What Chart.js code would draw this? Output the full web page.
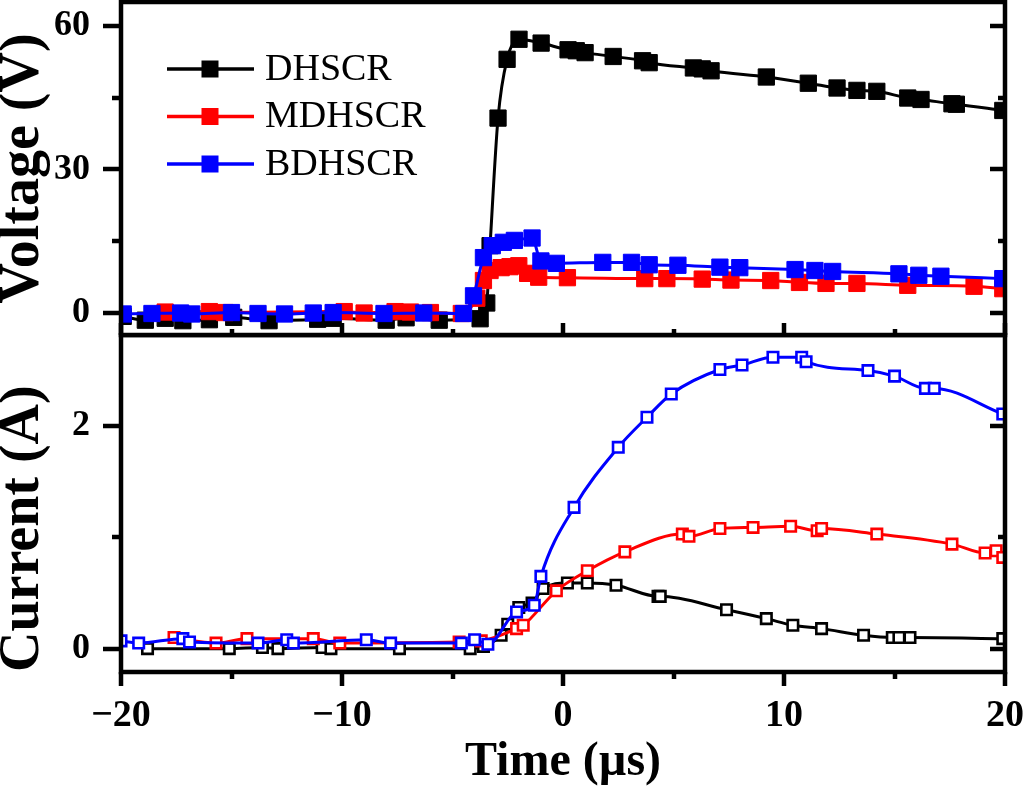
<!DOCTYPE html>
<html>
<head>
<meta charset="utf-8">
<script src="https://cdn.jsdelivr.net/npm/chart.js@4.4.1/dist/chart.umd.min.js"></script>
<style>
  body { margin: 0; background: #fff; }
  #wrap { position: relative; width: 1025px; height: 799px; }
  .box { position: absolute; left: 0; width: 1025px; }
  #topBox { top: 0; height: 340px; }
  #botBox { top: 333px; height: 466px; }
</style>
</head>
<body>
<div id="wrap">
  <div class="box" id="topBox"><canvas id="voltageChart"></canvas></div>
  <div class="box" id="botBox"><canvas id="currentChart"></canvas></div>
</div>
<script>
// axis ticks
const timeTicks = [-20, -10, 0, 10, 20];
const timeMinorTicks = [-15, -5, 5, 15];
const voltageTicks = [0, 30, 60];
const voltageMinorTicks = [15, 45];
const currentTicks = [0, 2];
const currentMinorTicks = [1];

const seriesNames = ['DHSCR', 'MDHSCR', 'BDHSCR'];
const seriesColors = ['#000000', '#ff0000', '#0000ff'];

// voltage (V) vs time (us)
const dhscrVoltageTime = [-19.9, -18.9, -18.0, -17.2, -16.0, -14.9, -13.3, -11.1, -10.4, -8.0, -7.1, -5.6, -3.75, -3.45, -3.3, -2.94, -2.53, -1.99, -0.99, 0.23, 0.6, 1.0, 2.27, 3.6, 3.9, 5.9, 6.3, 6.7, 9.2, 11.1, 12.4, 13.3, 14.2, 15.6, 16.2, 17.6, 17.8, 19.9];
const dhscrVoltage = [-0.8, -1.6, -1.2, -1.7, -1.5, -1.0, -1.7, -1.4, -1.2, -1.6, -1.1, -1.6, -1.3, 2.0, 14.0, 40.7, 53.0, 57.2, 56.4, 55.0, 54.8, 54.4, 53.6, 52.7, 52.3, 51.2, 51.0, 50.6, 49.3, 48.0, 47.0, 46.5, 46.3, 44.9, 44.6, 43.7, 43.6, 42.3];

const mdhscrVoltageTime = [-18.0, -16.0, -15.3, -9.9, -9.0, -7.6, -6.9, -6.0, -4.6, -3.9, -3.6, -3.3, -2.8, -2.4, -2.0, -1.6, -1.1, 0.2, 3.7, 4.7, 6.3, 7.6, 9.4, 10.7, 11.9, 13.3, 15.6, 18.6, 19.9];
const mdhscrVoltage = [0.1, 0.2, 0.0, 0.2, -0.1, 0.2, 0.1, 0.0, -0.2, 3.0, 6.7, 8.8, 9.4, 9.6, 9.8, 8.2, 7.4, 7.3, 7.1, 7.1, 7.0, 6.8, 6.7, 6.3, 6.1, 6.1, 5.7, 5.5, 5.0];

const bdhscrVoltageTime = [-19.9, -18.6, -17.3, -16.8, -15.0, -13.8, -12.6, -11.3, -10.4, -8.1, -6.3, -4.5, -4.05, -3.6, -3.2, -2.7, -2.2, -1.4, -1.0, -0.3, 1.8, 3.1, 3.9, 5.2, 7.1, 8.0, 10.5, 11.4, 12.2, 15.2, 16.1, 17.1, 19.9];
const bdhscrVoltage = [-0.3, -0.2, -0.1, -0.3, 0.0, -0.2, -0.3, -0.1, 0.0, -0.2, -0.1, -0.2, 3.5, 11.5, 14.0, 14.7, 15.1, 15.6, 10.8, 10.3, 10.5, 10.5, 10.0, 9.9, 9.5, 9.4, 9.0, 8.8, 8.6, 8.1, 7.8, 7.6, 7.1];

// current (A) vs time (us)
const dhscrCurrentTime = [-18.8, -15.1, -13.6, -12.9, -10.9, -10.5, -7.4, -4.2, -3.6, -2.8, -2.5, -2.0, -1.4, -0.9, 0.2, 1.1, 2.4, 4.3, 4.4, 7.4, 9.2, 10.4, 11.7, 13.6, 14.9, 15.2, 15.7, 19.9];
const dhscrCurrent = [0.0, 0.0, 0.01, 0.0, 0.01, 0.0, 0.0, 0.0, 0.02, 0.12, 0.22, 0.37, 0.41, 0.54, 0.59, 0.59, 0.57, 0.47, 0.47, 0.35, 0.27, 0.21, 0.18, 0.12, 0.10, 0.10, 0.10, 0.09];

const mdhscrCurrentTime = [-17.6, -15.7, -14.3, -11.3, -10.1, -4.7, -3.7, -2.1, -1.8, -0.3, 1.1, 2.8, 5.4, 5.7, 7.1, 8.6, 10.3, 11.5, 11.7, 14.2, 17.6, 19.1, 19.6, 19.9];
const mdhscrCurrent = [0.10, 0.05, 0.09, 0.09, 0.05, 0.06, 0.07, 0.18, 0.21, 0.52, 0.70, 0.87, 1.03, 1.01, 1.08, 1.09, 1.10, 1.06, 1.08, 1.03, 0.94, 0.86, 0.88, 0.82];

const bdhscrCurrentTime = [-20.0, -19.2, -17.2, -16.9, -13.8, -12.5, -12.2, -8.9, -7.8, -4.6, -4.0, -3.4, -2.1, -1.3, -1.0, 0.5, 2.5, 3.8, 4.9, 7.1, 8.1, 9.5, 10.8, 11.0, 13.8, 15.0, 16.4, 16.8, 19.9];
const bdhscrCurrent = [0.07, 0.05, 0.09, 0.06, 0.05, 0.08, 0.05, 0.08, 0.05, 0.05, 0.08, 0.04, 0.33, 0.39, 0.65, 1.27, 1.81, 2.08, 2.29, 2.51, 2.55, 2.62, 2.62, 2.58, 2.50, 2.45, 2.34, 2.34, 2.11];

const serif = '"Liberation Serif", "Times New Roman", serif';

function toPoints(ts, vs) {
    return ts.map((t, i) => ({ x: t, y: vs[i] }));
}

function fixTicks(values) {
    return scale => { scale.ticks = values.map(v => ({ value: v })); };
}

// draws the box and the little tick marks, Origin style
function framePlugin(opts) {
    return {
        id: 'frame',
        afterDraw(chart) {
            const { ctx, chartArea: a } = chart;
            const x = chart.scales.x, y = chart.scales.y;
            ctx.save();
            ctx.strokeStyle = '#000';
            ctx.lineWidth = 4.5;
            ctx.lineCap = 'butt';
            ctx.beginPath();
            const tickY = (vals, len, inLen) => vals.forEach(v => {
                const p = Math.round(y.getPixelForValue(v));
                ctx.moveTo(a.left - len, p); ctx.lineTo(a.left, p);
                ctx.moveTo(a.right, p); ctx.lineTo(a.right - inLen, p);
            });
            tickY(opts.yMajor, 18, 15);
            tickY(opts.yMinor, 9, 7);
            const tickX = (vals, len) => vals.forEach(v => {
                const p = Math.round(x.getPixelForValue(v));
                ctx.moveTo(p, a.bottom); ctx.lineTo(p, a.bottom + len * opts.xDir);
            });
            tickX(timeTicks, opts.xMajorLen);
            tickX(timeMinorTicks, opts.xMinorLen);
            ctx.stroke();
            ctx.lineWidth = 4.5;
            ctx.lineJoin = 'miter';
            ctx.strokeRect(a.left, a.top, a.right - a.left, a.bottom - a.top);
            ctx.restore();
        }
    };
}

// legend with line + marker inside the top panel
const insideLegend = {
    id: 'insideLegend',
    afterDatasetsDraw(chart) {
        const { ctx, chartArea: a } = chart;
        ctx.save();
        chart.data.datasets.forEach((ds, i) => {
            const cy = a.top + 67 + i * 47.5;
            ctx.strokeStyle = ds.borderColor;
            ctx.lineWidth = 3.5;
            ctx.beginPath();
            ctx.moveTo(a.left + 46, cy);
            ctx.lineTo(a.left + 133, cy);
            ctx.stroke();
            ctx.fillStyle = ds.borderColor;
            ctx.fillRect(a.left + 89 - 8.5, cy - 8.5, 17, 17);
            ctx.fillStyle = '#000';
            ctx.font = '38px ' + serif;
            ctx.textBaseline = 'middle';
            ctx.fillText(ds.label, a.left + 144, cy + 1);
        });
        ctx.restore();
    }
};

function makeDataset(i, ts, vs, filled) {
    const c = seriesColors[i];
    return {
        label: seriesNames[i],
        data: toPoints(ts, vs),
        borderColor: c,
        backgroundColor: c,
        borderWidth: 3,
        pointStyle: 'rect',
        pointRadius: filled ? 11.5 : 7.4,
        pointBorderWidth: filled ? 1 : 2.6,
        pointBorderColor: c,
        pointBackgroundColor: filled ? c : '#ffffff',
        cubicInterpolationMode: 'monotone',
        clip: 0,
        order: 3 - i
    };
}

const tickFont = size => ({ family: serif, size: size, weight: 'bold' });

new Chart(document.getElementById('voltageChart'), {
    type: 'line',
    data: {
        datasets: [
            makeDataset(0, dhscrVoltageTime, dhscrVoltage, true),
            makeDataset(1, mdhscrVoltageTime, mdhscrVoltage, true),
            makeDataset(2, bdhscrVoltageTime, bdhscrVoltage, true)
        ]
    },
    options: {
        responsive: true,
        maintainAspectRatio: false,
        animation: false,
        events: [],
        layout: { autoPadding: false, padding: { top: 2, right: 20, bottom: 5, left: 0 } },
        plugins: { legend: { display: false }, tooltip: { enabled: false } },
        scales: {
            x: {
                type: 'linear', min: -20, max: 20, display: false,
                afterFit: s => { s.paddingLeft = 0; s.paddingRight = 0; }
            },
            y: {
                min: -4.7, max: 65,
                afterBuildTicks: fixTicks(voltageTicks),
                afterFit: s => { s.width = 121; s.paddingTop = 0; s.paddingBottom = 0; },
                grid: { display: false, drawTicks: false },
                border: { display: false },
                ticks: { color: '#000', font: tickFont(36), padding: 31 },
                title: {
                    display: true, text: 'Voltage (V)', color: '#000', padding: 0,
                    font: { family: serif, size: 56, weight: 'bold', lineHeight: 0.85 }
                }
            }
        }
    },
    plugins: [insideLegend, framePlugin({ yMajor: voltageTicks, yMinor: voltageMinorTicks, xDir: -1, xMajorLen: 12, xMinorLen: 6 })]
});

new Chart(document.getElementById('currentChart'), {
    type: 'line',
    data: {
        datasets: [
            makeDataset(0, dhscrCurrentTime, dhscrCurrent, false),
            makeDataset(1, mdhscrCurrentTime, mdhscrCurrent, false),
            makeDataset(2, bdhscrCurrentTime, bdhscrCurrent, false)
        ]
    },
    options: {
        responsive: true,
        maintainAspectRatio: false,
        animation: false,
        events: [],
        layout: { autoPadding: false, padding: { top: 2, right: 20, bottom: 0, left: 0 } },
        plugins: { legend: { display: false }, tooltip: { enabled: false } },
        scales: {
            x: {
                type: 'linear', min: -20, max: 20,
                afterBuildTicks: fixTicks(timeTicks),
                afterFit: s => { s.height = 127; s.paddingLeft = 0; s.paddingRight = 0; },
                grid: { display: false, drawTicks: false },
                border: { display: false },
                ticks: {
                    color: '#000', font: tickFont(38), padding: 21, maxRotation: 0,
                    callback: v => String(v).replace('-', '\u2212')
                },
                title: {
                    display: true, text: 'Time (\u00b5s)', color: '#000',
                    padding: { top: 0, bottom: 12 },
                    font: { family: serif, size: 48, weight: 'bold', lineHeight: 1 }
                }
            },
            y: {
                min: -0.21, max: 2.82,
                afterBuildTicks: fixTicks(currentTicks),
                afterFit: s => { s.width = 121; s.paddingTop = 0; s.paddingBottom = 0; },
                grid: { display: false, drawTicks: false },
                border: { display: false },
                ticks: { color: '#000', font: tickFont(36), padding: 31 },
                title: {
                    display: true, text: 'Current (A)', color: '#000', padding: 0, align: 'start',
                    font: { family: serif, size: 56, weight: 'bold', lineHeight: 0.85 }
                }
            }
        }
    },
    plugins: [framePlugin({ yMajor: currentTicks, yMinor: currentMinorTicks, xDir: 1, xMajorLen: 14, xMinorLen: 7 })]
});
</script>
</body>
</html>
